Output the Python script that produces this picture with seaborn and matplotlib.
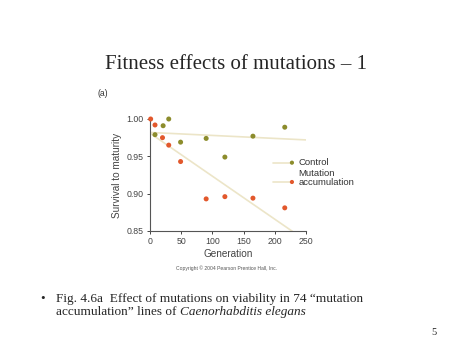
import matplotlib
matplotlib.use("Agg")
import matplotlib.pyplot as plt
import seaborn as sns
import pandas as pd

# data
control_gen = [8, 21, 30, 49, 90, 120, 165, 216]
control_surv = [0.979, 0.991, 1.000, 0.969, 0.974, 0.949, 0.977, 0.989]
mutation_gen = [1, 8, 20, 30, 49, 90, 120, 165, 216]
mutation_surv = [1.000, 0.992, 0.975, 0.965, 0.943, 0.893, 0.896, 0.894, 0.881]

# fitted lines (endpoints)
fit_gen = [0, 250]
control_fit = [0.982, 0.972]
mutation_fit = [0.981, 0.837]

x_ticks = [0, 50, 100, 150, 200, 250]
y_ticks = [0.85, 0.90, 0.95, 1.00]

olive = "#8c8c2c"
orange = "#e2582c"
beige = "#ece5c8"

sns.set_style("white")
plt.rcParams["font.family"] = ["Liberation Sans", "DejaVu Sans"]

fig = plt.figure(figsize=(4.74, 3.55), dpi=100)
ax = fig.add_axes([0.3165, 0.3493, 0.329, 0.3155])

sns.lineplot(x=fit_gen, y=control_fit, color=beige, lw=1.2, ax=ax)
sns.lineplot(x=fit_gen, y=mutation_fit, color=beige, lw=1.2, ax=ax)

ctrl = pd.DataFrame({"gen": control_gen, "surv": control_surv})
mut = pd.DataFrame({"gen": mutation_gen, "surv": mutation_surv})
sns.scatterplot(data=ctrl, x="gen", y="surv", color=olive, s=13,
                edgecolor="none", ax=ax, clip_on=False, zorder=3)
sns.scatterplot(data=mut, x="gen", y="surv", color=orange, s=13,
                edgecolor="none", ax=ax, clip_on=False, zorder=3)

ax.set_xlim(0, 250)
ax.set_ylim(0.85, 1.00)
ax.set_xticks(x_ticks)
ax.set_yticks(y_ticks)
ax.set_yticklabels([f"{v:.2f}" for v in y_ticks])
ax.tick_params(axis="both", labelsize=6.3, length=2.5, width=0.7,
               colors="#444444", pad=2, direction="out", bottom=True, left=True)
for s in ["top", "right"]:
    ax.spines[s].set_visible(False)
for s in ["left", "bottom"]:
    ax.spines[s].set_color("#555555")
    ax.spines[s].set_linewidth(0.8)
ax.set_xlabel("Generation", fontsize=7.2, color="#444444", labelpad=2)
ax.set_ylabel("Survival to maturity", fontsize=7.2, color="#444444", labelpad=3)

# manual legend (line sample with marker at the end)
for yy, col in [(0.61, olive), (0.4375, orange)]:
    ax.plot([0.79, 0.91], [yy, yy], color=beige, lw=1.2,
            transform=ax.transAxes, clip_on=False)
    ax.scatter([0.91], [yy], color=col, s=9, edgecolor="none",
               transform=ax.transAxes, clip_on=False, zorder=4)
ax.text(0.95, 0.61, "Control", transform=ax.transAxes, fontsize=6.8,
        color="#333333", va="center")
ax.text(0.95, 0.47, "Mutation\naccumulation", transform=ax.transAxes,
        fontsize=6.8, color="#333333", va="center", linespacing=1.0)

fig.text(0.205, 0.73, "(a)", fontsize=6.2, color="#333333")
fig.text(0.498, 0.805, "Fitness effects of mutations \u2013 1", ha="center",
         va="baseline", fontsize=15, family="Liberation Serif")
fig.text(0.477, 0.24, "Copyright \u00a9 2004 Pearson Prentice Hall, Inc.",
         ha="center", fontsize=3.6, color="#555555")

fig.text(0.089, 0.149, "\u2022", fontsize=9.5, family="Liberation Serif",
         ha="center")
fig.text(0.118, 0.149,
         "Fig. 4.6a  Effect of mutations on viability in 74 \u201cmutation",
         fontsize=9.5, family="Liberation Serif")
t2 = fig.text(0.118, 0.113, "accumulation\u201d lines of ", fontsize=9.5,
              family="Liberation Serif")
fig.canvas.draw()
ax.annotate("Caenorhabditis elegans", xy=(1, 0), xycoords=t2,
            va="bottom", ha="left", fontsize=9.5,
            family="Liberation Serif", style="italic", annotation_clip=False)
fig.text(0.909, 0.056, "5", fontsize=7.5, family="Liberation Serif")

fig.savefig("out.png", dpi=100)
